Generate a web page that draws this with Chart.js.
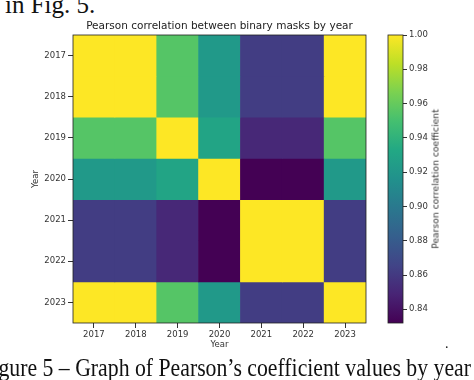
<!DOCTYPE html>
<html>
<head>
<meta charset="utf-8">
<script src="https://cdn.jsdelivr.net/npm/chart.js@4"></script>
<style>
  body { margin: 0; width: 474px; height: 380px; overflow: hidden; position: relative; background: #fff; }
  canvas { position: absolute; left: 0; top: 0; }
  .serif { position: absolute; font-family: "Liberation Serif", serif; font-size: 25px; line-height: 25px; color: #111; white-space: nowrap; }
  #topText { left: 5px; top: -8px; }
  #caption { right: 3px; top: 355px; transform: scaleX(0.87); transform-origin: right center; }
  #dot { left: 445px; top: 337px; font-size: 14px; line-height: 14px; }
  #cbLabel { position: absolute; left: 435px; top: 179px; font-family: "DejaVu Sans", sans-serif; font-size: 9.2px;
             color: #333; white-space: nowrap; transform: translate(-50%, -50%) rotate(-90deg); }
</style>
</head>
<body>
<div class="serif" id="topText">in Fig. 5.</div>
<canvas id="heat" width="474" height="380"></canvas>
<canvas id="cbar" width="474" height="380"></canvas>
<div id="cbLabel">Pearson correlation coefficient</div>
<div class="serif" id="caption">Figure 5 – Graph of Pearson’s coefficient values by year</div>
<div class="serif" id="dot">.</div>
<script>
// years on both axes
const years = ["2017", "2018", "2019", "2020", "2021", "2022", "2023"];

// correlation rows (one per year)
const row2017 = [1.000, 1.000, 0.955, 0.922, 0.862, 0.862, 1.000];
const row2018 = [1.000, 1.000, 0.955, 0.922, 0.862, 0.862, 1.000];
const row2019 = [0.955, 0.955, 1.000, 0.930, 0.851, 0.851, 0.955];
const row2020 = [0.922, 0.922, 0.930, 1.000, 0.832, 0.832, 0.922];
const row2021 = [0.862, 0.862, 0.851, 0.832, 1.000, 1.000, 0.862];
const row2022 = [0.862, 0.862, 0.851, 0.832, 1.000, 1.000, 0.862];
const row2023 = [1.000, 1.000, 0.955, 0.922, 0.862, 0.862, 1.000];
const rows = [row2017, row2018, row2019, row2020, row2021, row2022, row2023];

// colorbar tick labels
const cbTicks = [0.84, 0.86, 0.88, 0.90, 0.92, 0.94, 0.96, 0.98, 1.00];

const allVals = rows.flat();
const cbMin = Math.min(...allVals);
const cbMax = Math.max(...allVals);

// viridis colormap
const viridisStops = ["#440154", "#482475", "#414487", "#355f8d", "#2a788e", "#21918c",
                      "#22a884", "#44bf70", "#7ad151", "#bddf26", "#fde725"];
function hexToRgb(h) {
  return [parseInt(h.slice(1, 3), 16), parseInt(h.slice(3, 5), 16), parseInt(h.slice(5, 7), 16)];
}
function viridis(t) {
  t = Math.max(0, Math.min(1, t));
  const p = t * 10;
  const i = Math.min(9, Math.floor(p));
  const f = p - i;
  const a = hexToRgb(viridisStops[i]), b = hexToRgb(viridisStops[i + 1]);
  const c = a.map((v, k) => Math.round(v + (b[k] - v) * f));
  return `rgb(${c[0]},${c[1]},${c[2]})`;
}
const norm = v => (cbMin === cbMax ? 1 : (v - cbMin) / (cbMax - cbMin));

const font = { family: "DejaVu Sans", size: 8.5 };
const textColor = "#333";

// frame around the plot area
const framePlugin = {
  id: "frame",
  afterDraw(chart) {
    const a = chart.chartArea;
    const ctx = chart.ctx;
    ctx.save();
    ctx.strokeStyle = "#222";
    ctx.lineWidth = 0.8;
    ctx.strokeRect(a.left, a.top, a.right - a.left, a.bottom - a.top);
    ctx.restore();
  }
};

// heatmap as stacked unit bars, one dataset per row year
new Chart(document.getElementById("heat"), {
  type: "bar",
  data: {
    labels: years,
    datasets: rows.map((row, r) => ({
      label: years[r],
      data: years.map(() => 1),
      backgroundColor: row.map(v => viridis(norm(v))),
      borderWidth: 0,
      barPercentage: 1,
      categoryPercentage: 1
    }))
  },
  options: {
    responsive: false,
    animation: false,
    layout: { padding: { left: 31, right: 108, top: 0, bottom: 30 } },
    plugins: {
      legend: { display: false },
      tooltip: { enabled: false },
      title: {
        display: true,
        fullSize: false,
        text: "Pearson correlation between binary masks by year",
        color: "#222",
        font: { family: "DejaVu Sans", size: 10.5, weight: "normal" },
        padding: { top: 20, bottom: 2.4 }
      }
    },
    scales: {
      x: {
        stacked: true,
        grid: { display: true, drawOnChartArea: false, offset: false, tickLength: 5, color: "#333" },
        border: { display: false },
        ticks: { color: textColor, font: font, padding: 2, maxRotation: 0 },
        title: { display: true, text: "Year", color: textColor, font: font, padding: 0 },
        afterFit(scale) { scale.height = 27; }
      },
      y: {
        stacked: true,
        reverse: true,
        min: 0,
        max: years.length,
        grid: { display: true, drawOnChartArea: false, tickLength: 5, color: "#333" },
        border: { display: false },
        afterBuildTicks(scale) { scale.ticks = years.map((_, i) => ({ value: i + 0.5 })); },
        ticks: {
          color: textColor, font: font, padding: 2,
          callback: v => years[Math.floor(v)]
        },
        title: { display: true, text: "Year", color: textColor, font: font, padding: 0 },
        afterFit(scale) { scale.width = 42; }
      }
    }
  },
  plugins: [framePlugin]
});

// colorbar as a single floating bar with a viridis gradient
new Chart(document.getElementById("cbar"), {
  type: "bar",
  data: {
    labels: [""],
    datasets: [{
      data: [[cbMin, cbMax]],
      backgroundColor(ctx) {
        const area = ctx.chart.chartArea;
        if (!area) return viridisStops[0];
        const g = ctx.chart.ctx.createLinearGradient(0, area.bottom, 0, area.top);
        viridisStops.forEach((c, i) => g.addColorStop(i / (viridisStops.length - 1), c));
        return g;
      },
      borderWidth: 0,
      barPercentage: 1,
      categoryPercentage: 1
    }]
  },
  options: {
    responsive: false,
    animation: false,
    layout: { padding: { left: 388, right: 34, top: 35, bottom: 57 } },
    plugins: { legend: { display: false }, tooltip: { enabled: false } },
    scales: {
      x: { display: false },
      y: {
        position: "right",
        min: cbMin,
        max: cbMax,
        grid: { display: true, drawOnChartArea: false, tickLength: 4, color: "#333" },
        border: { display: false },
        afterBuildTicks(scale) { scale.ticks = cbTicks.map(v => ({ value: v })); },
        ticks: { color: textColor, font: font, padding: 2, callback: v => v.toFixed(2) },
        afterFit(scale) { scale.width = 37; }
      }
    }
  },
  plugins: [framePlugin]
});
</script>
</body>
</html>
